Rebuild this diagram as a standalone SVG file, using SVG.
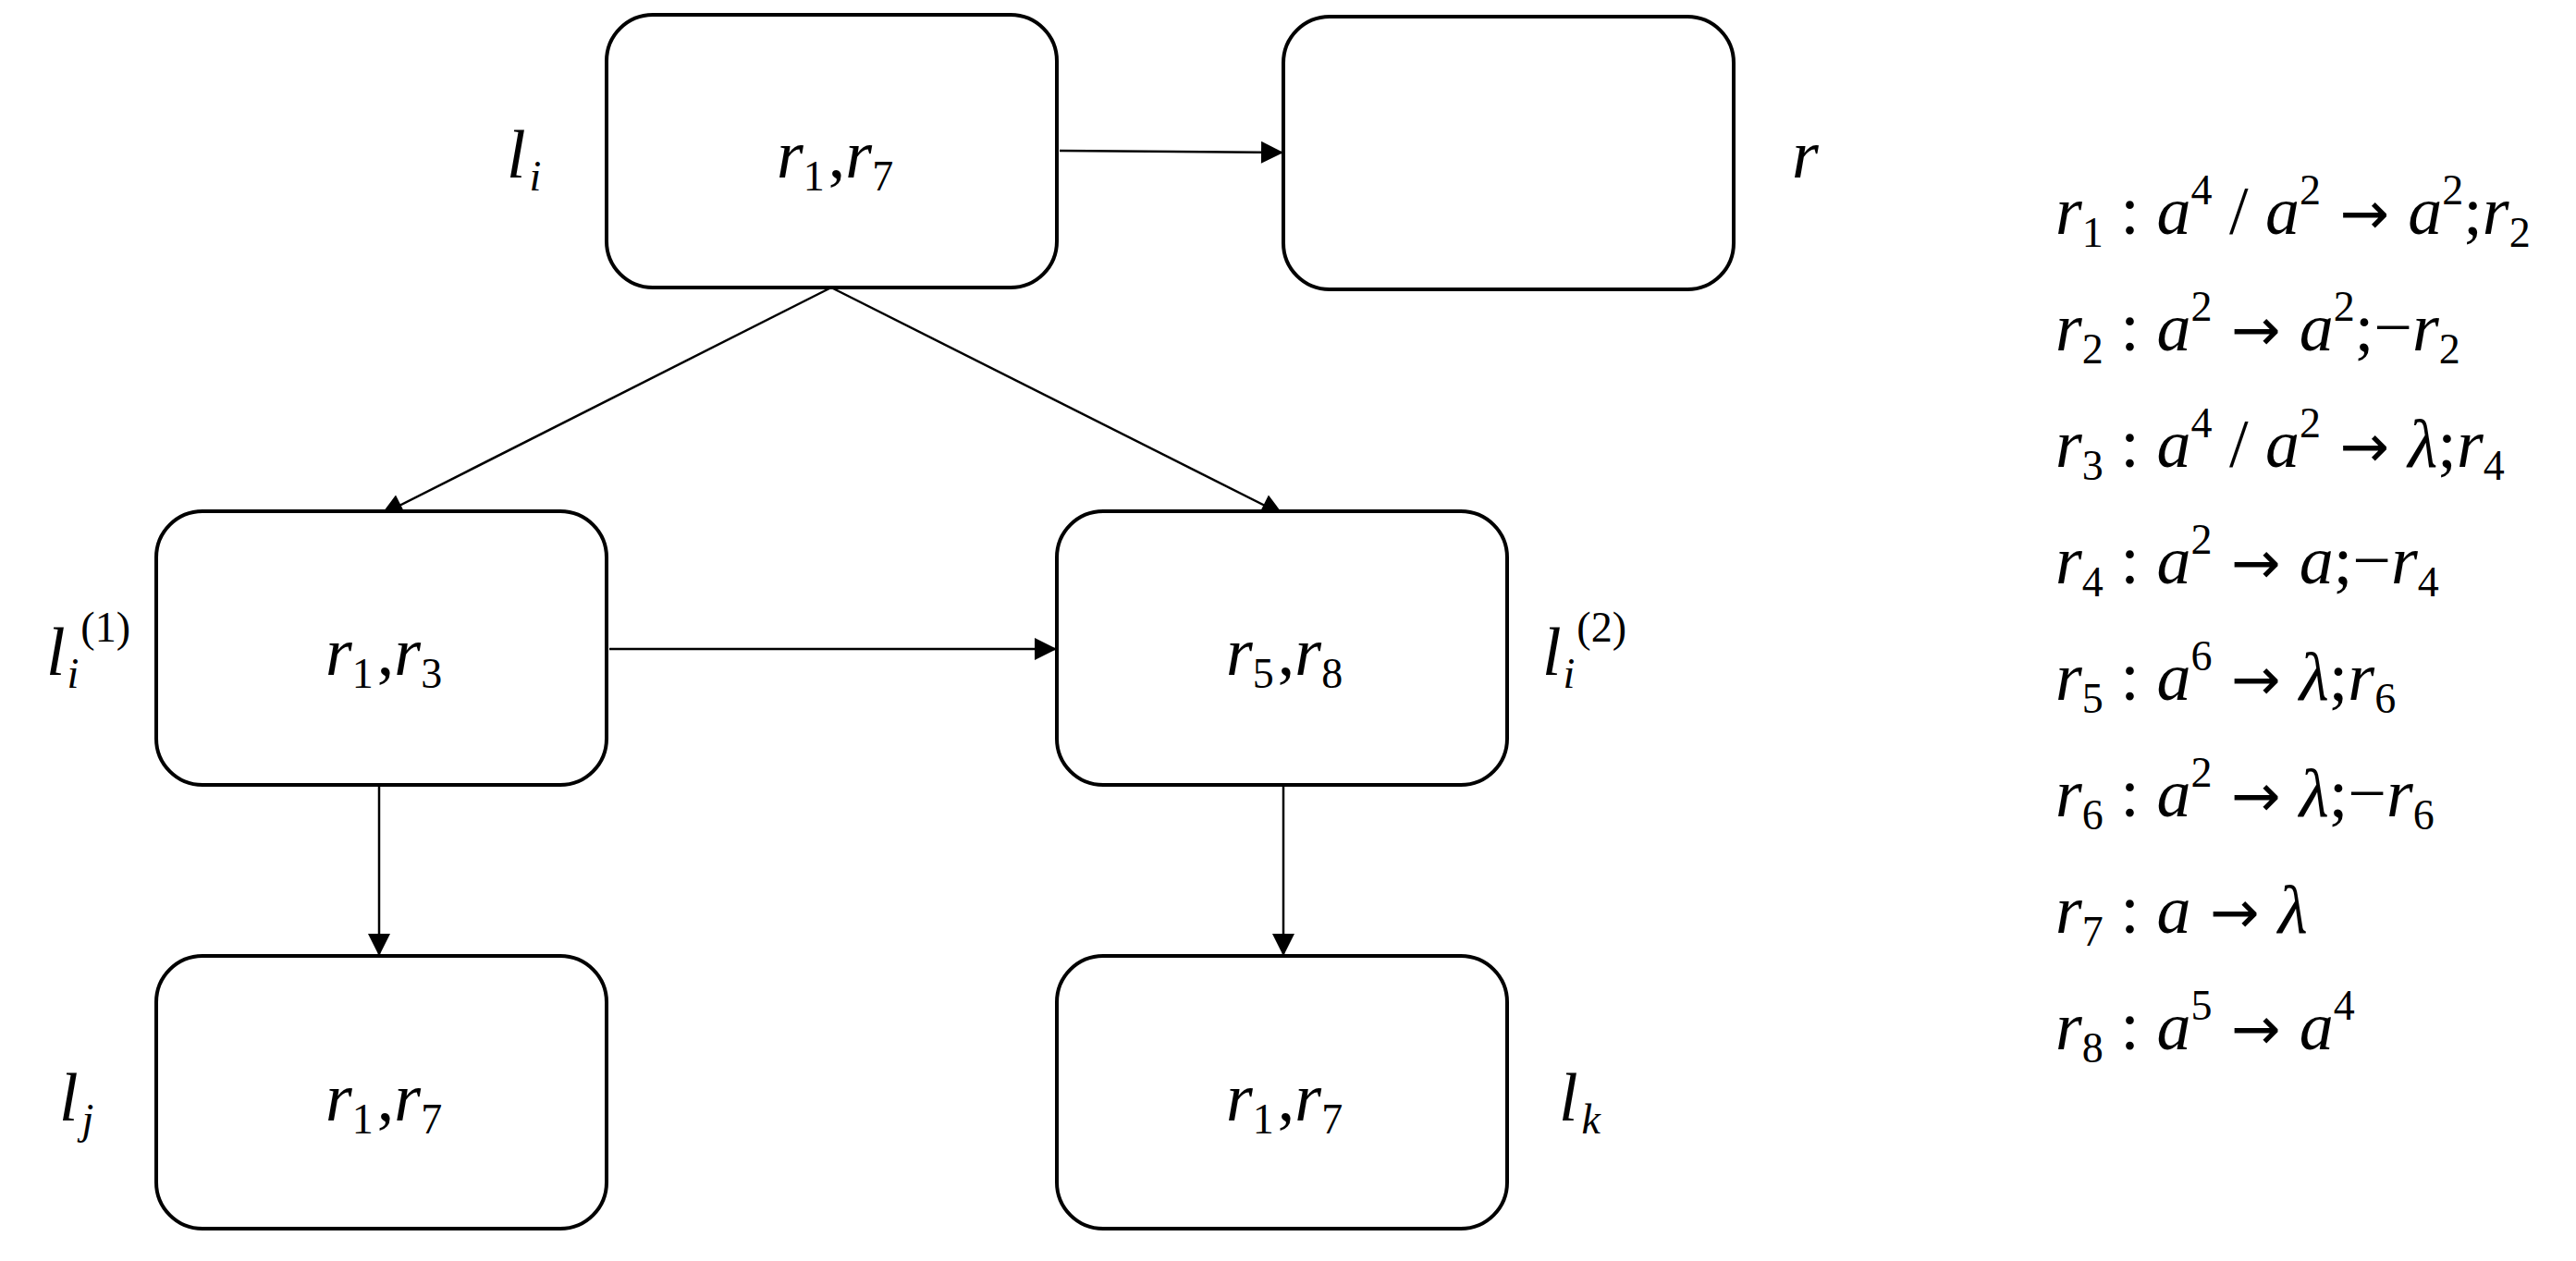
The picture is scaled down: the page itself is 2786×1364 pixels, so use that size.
<svg xmlns="http://www.w3.org/2000/svg" width="2786" height="1364" viewBox="0 0 2786 1364">
<style>
.b{fill:#fff;stroke:#000;stroke-width:4}
.t{font-family:'Liberation Serif','Times New Roman','DejaVu Serif',serif;font-size:74px;font-style:italic}
.u{font-style:normal}
.s{font-size:46px}
.ar{font-family:'DejaVu Sans',sans-serif;font-style:normal;font-size:64px}
.c{stroke:#000;stroke-width:2.5;fill:none}
</style>
<defs><marker id="ah" viewBox="0 0 10 10" refX="10" refY="5" markerWidth="28" markerHeight="24" markerUnits="userSpaceOnUse" orient="auto"><path d="M0,0L10,5L0,10z"/></marker></defs>
<g id="connectors" marker-end="url(#ah)">
<line class="c" x1="1146" y1="163" x2="1388" y2="165" marker-end="url(#ah)"/>
<line class="c" x1="899" y1="311" x2="412" y2="557" marker-end="url(#ah)"/>
<line class="c" x1="899" y1="311" x2="1388" y2="557" marker-end="url(#ah)"/>
<line class="c" x1="659" y1="702" x2="1143" y2="702" marker-end="url(#ah)"/>
<line class="c" x1="410" y1="851" x2="410" y2="1034" marker-end="url(#ah)"/>
<line class="c" x1="1388" y1="851" x2="1388" y2="1034" marker-end="url(#ah)"/>
</g>
<g id="n_top"><rect class="b" x="656" y="16" width="487" height="295" rx="50"/><text class="t" x="840" y="192">r<tspan class="s u" dy="14">1</tspan><tspan class="u" dx="4" dy="-14">,</tspan>r<tspan class="s u" dy="14">7</tspan></text></g>
<g id="n_r"><rect class="b" x="1388" y="18" width="487" height="295" rx="50"/></g>
<g id="n_l1"><rect class="b" x="169" y="553" width="487" height="296" rx="50"/><text class="t" x="352" y="730">r<tspan class="s u" dy="14">1</tspan><tspan class="u" dx="4" dy="-14">,</tspan>r<tspan class="s u" dy="14">3</tspan></text></g>
<g id="n_l2"><rect class="b" x="1143" y="553" width="487" height="296" rx="50"/><text class="t" x="1326" y="730">r<tspan class="s u" dy="14">5</tspan><tspan class="u" dx="4" dy="-14">,</tspan>r<tspan class="s u" dy="14">8</tspan></text></g>
<g id="n_lj"><rect class="b" x="169" y="1034" width="487" height="295" rx="50"/><text class="t" x="352" y="1212">r<tspan class="s u" dy="14">1</tspan><tspan class="u" dx="4" dy="-14">,</tspan>r<tspan class="s u" dy="14">7</tspan></text></g>
<g id="n_lk"><rect class="b" x="1143" y="1034" width="487" height="295" rx="50"/><text class="t" x="1326" y="1212">r<tspan class="s u" dy="14">1</tspan><tspan class="u" dx="4" dy="-14">,</tspan>r<tspan class="s u" dy="14">7</tspan></text></g>
<g id="labels">
<text class="t" x="548" y="192">l<tspan class="s" dx="4" dy="14">i</tspan></text>
<text class="t" x="1938" y="192">r</text>
<text class="t" x="50" y="730">l<tspan class="s" dx="2" dy="14">i</tspan><tspan class="s u" dx="2" dy="-50">(1)</tspan></text>
<text class="t" x="1668" y="730">l<tspan class="s" dx="2" dy="14">i</tspan><tspan class="s u" dx="2" dy="-50">(2)</tspan></text>
<text class="t" x="64" y="1212">l<tspan class="s" dx="4" dy="14">j</tspan></text>
<text class="t" x="1686" y="1212">l<tspan class="s" dx="4" dy="14">k</tspan></text>
</g>
<g id="rules">
<text class="t" x="2223" y="253">r<tspan class="s u" dy="14">1</tspan><tspan class="u" dy="-14"> : </tspan>a<tspan class="s u" dy="-32">4</tspan><tspan class="u" dy="32"> / </tspan>a<tspan class="s u" dy="-32">2</tspan><tspan class="ar" dy="32"> → </tspan>a<tspan class="s u" dy="-32">2</tspan><tspan class="u" dy="32">;</tspan>r<tspan class="s u" dy="14">2</tspan></text>
<text class="t" x="2223" y="379">r<tspan class="s u" dy="14">2</tspan><tspan class="u" dy="-14"> : </tspan>a<tspan class="s u" dy="-32">2</tspan><tspan class="ar" dy="32"> → </tspan>a<tspan class="s u" dy="-32">2</tspan><tspan class="u" dy="32">;−</tspan>r<tspan class="s u" dy="14">2</tspan></text>
<text class="t" x="2223" y="505">r<tspan class="s u" dy="14">3</tspan><tspan class="u" dy="-14"> : </tspan>a<tspan class="s u" dy="-32">4</tspan><tspan class="u" dy="32"> / </tspan>a<tspan class="s u" dy="-32">2</tspan><tspan class="ar" dy="32"> → </tspan>λ<tspan class="u">;</tspan>r<tspan class="s u" dy="14">4</tspan></text>
<text class="t" x="2223" y="631">r<tspan class="s u" dy="14">4</tspan><tspan class="u" dy="-14"> : </tspan>a<tspan class="s u" dy="-32">2</tspan><tspan class="ar" dy="32"> → </tspan>a<tspan class="u">;−</tspan>r<tspan class="s u" dy="14">4</tspan></text>
<text class="t" x="2223" y="757">r<tspan class="s u" dy="14">5</tspan><tspan class="u" dy="-14"> : </tspan>a<tspan class="s u" dy="-32">6</tspan><tspan class="ar" dy="32"> → </tspan>λ<tspan class="u">;</tspan>r<tspan class="s u" dy="14">6</tspan></text>
<text class="t" x="2223" y="883">r<tspan class="s u" dy="14">6</tspan><tspan class="u" dy="-14"> : </tspan>a<tspan class="s u" dy="-32">2</tspan><tspan class="ar" dy="32"> → </tspan>λ<tspan class="u">;−</tspan>r<tspan class="s u" dy="14">6</tspan></text>
<text class="t" x="2223" y="1009">r<tspan class="s u" dy="14">7</tspan><tspan class="u" dy="-14"> : </tspan>a<tspan class="ar"> → </tspan>λ</text>
<text class="t" x="2223" y="1135">r<tspan class="s u" dy="14">8</tspan><tspan class="u" dy="-14"> : </tspan>a<tspan class="s u" dy="-32">5</tspan><tspan class="ar" dy="32"> → </tspan>a<tspan class="s u" dy="-32">4</tspan></text>
</g>
</svg>
